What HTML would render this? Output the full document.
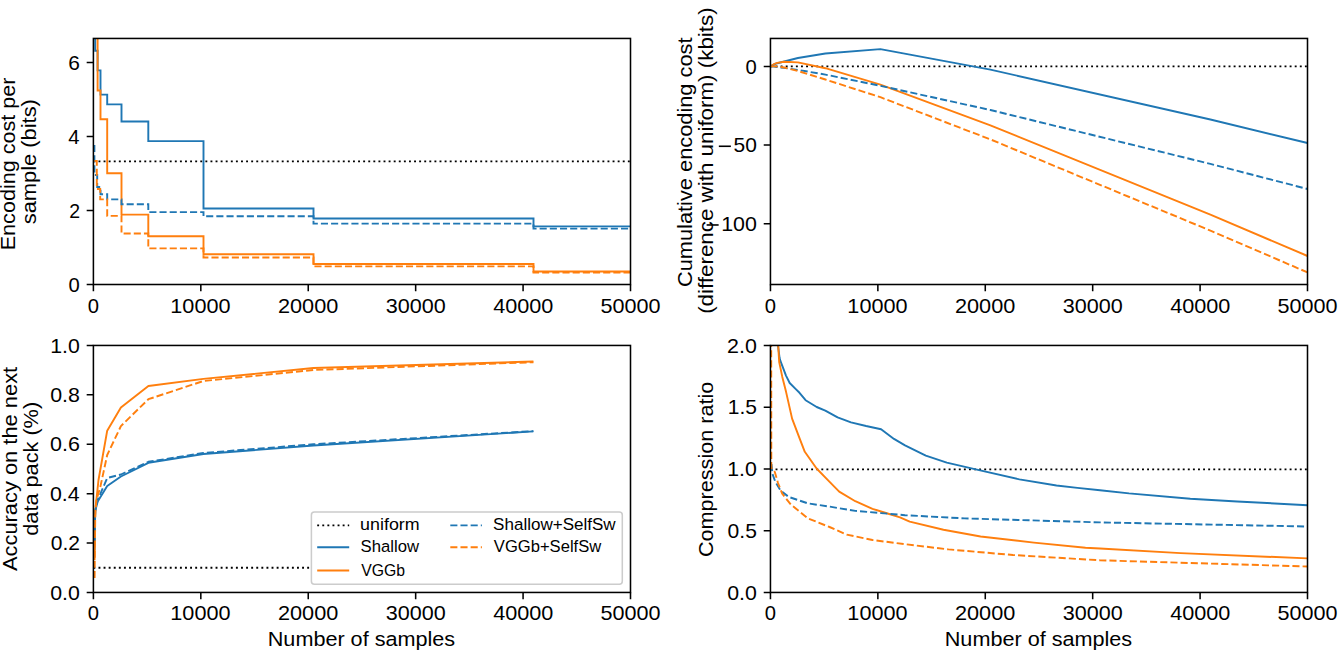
<!DOCTYPE html>
<html><head><meta charset="utf-8"><style>html,body{margin:0;padding:0;background:#fff;width:1339px;height:651px;overflow:hidden}</style></head><body>
<svg width="1339" height="651" viewBox="0 0 1339 651" style="display:block">
<rect width="1339" height="651" fill="#fff"/>
<g font-family="Liberation Sans, sans-serif" fill="#000">
<clipPath id="cTL"><rect x="93.4" y="38.45" width="537.1" height="246.05"/></clipPath>
<clipPath id="cTR"><rect x="770.45" y="38.45" width="537.05" height="246.05"/></clipPath>
<clipPath id="cBL"><rect x="93.4" y="345.45" width="537.1" height="247.00000000000006"/></clipPath>
<clipPath id="cBR"><rect x="770.45" y="345.45" width="537.05" height="247.00000000000006"/></clipPath>
<path d="M93.4,161.4 H630.5" stroke="#000" stroke-width="1.92" stroke-dasharray="1.92 3.17" clip-path="url(#cTL)"/>
<path d="M95.2,30 V50.7 H97.6 V70.4 H100.5 V94.6 H107.2 V104.4 H121.5 V121.5 H148.3 V141.1 H203.5 V208.5 H313.5 V218.5 H533.5 V226.4 H631" fill="none" stroke="#1f77b4" stroke-width="1.92" stroke-linejoin="miter" clip-path="url(#cTL)"/>
<path d="M97.6,30 V90.5 H100.5 V119.2 H107.2 V173.3 H121.5 V214.6 H148.3 V236.2 H203.5 V254.3 H313.5 V264.0 H533.5 V271.5 H631" fill="none" stroke="#ff7f0e" stroke-width="1.92" stroke-linejoin="miter" clip-path="url(#cTL)"/>
<path d="M94.4,145 V175 H97.2 V187 H100.5 V194.3 H107.2 V199.4 H121.5 V204.3 H148.3 V212.1 H203.5 V216.3 H313.5 V223.6 H533.5 V228.6 H631" fill="none" stroke="#1f77b4" stroke-width="1.92" stroke-dasharray="7.1 3.07" stroke-linejoin="miter" clip-path="url(#cTL)"/>
<path d="M94.4,161 H96.8 V189 H100.2 V199.4 H107.2 V215.9 H121.5 V233.5 H148.3 V248.4 H203.5 V257.5 H313.5 V266.4 H533.5 V272.6 H631" fill="none" stroke="#ff7f0e" stroke-width="1.92" stroke-dasharray="7.1 3.07" stroke-linejoin="miter" clip-path="url(#cTL)"/>
<path d="M770.45,66.4 H1307.5" stroke="#000" stroke-width="1.92" stroke-dasharray="1.92 3.17" clip-path="url(#cTR)"/>
<path d="M770.45,66.40 L773.90,64.50 L777.30,63.20 L784.20,61.50 L797.90,58.00 L825.40,53.50 L880.40,49.10 L990.40,69.60 L1210.40,119.50 L1307.50,143.00" fill="none" stroke="#1f77b4" stroke-width="1.92" stroke-linejoin="round" clip-path="url(#cTR)"/>
<path d="M770.45,66.40 L773.90,64.20 L777.30,62.90 L784.20,61.80 L797.90,62.40 L825.40,68.20 L880.40,84.60 L990.40,125.30 L1210.40,214.60 L1307.50,256.00" fill="none" stroke="#ff7f0e" stroke-width="1.92" stroke-linejoin="round" clip-path="url(#cTR)"/>
<path d="M770.45,66.40 L773.90,66.50 L777.30,67.00 L784.20,67.90 L797.90,69.90 L825.40,74.60 L880.40,85.80 L990.40,110.00 L1210.40,163.90 L1307.50,189.00" fill="none" stroke="#1f77b4" stroke-width="1.92" stroke-dasharray="7.1 3.07" stroke-linejoin="round" clip-path="url(#cTR)"/>
<path d="M770.45,66.40 L773.90,66.40 L777.30,66.50 L784.20,67.50 L797.90,71.00 L825.40,79.50 L880.40,97.20 L990.40,139.40 L1210.40,230.60 L1307.50,272.40" fill="none" stroke="#ff7f0e" stroke-width="1.92" stroke-dasharray="7.1 3.07" stroke-linejoin="round" clip-path="url(#cTR)"/>
<path d="M93.4,567.75 H533.4" stroke="#000" stroke-width="1.92" stroke-dasharray="1.92 3.17" clip-path="url(#cBL)"/>
<path d="M94.60,550.00 L95.20,511.00 L97.70,501.40 L107.20,486.00 L120.90,476.50 L148.40,462.80 L203.40,454.00 L313.40,445.50 L533.40,431.40" fill="none" stroke="#1f77b4" stroke-width="1.92" stroke-linejoin="round" clip-path="url(#cBL)"/>
<path d="M94.60,560.00 L95.00,520.00 L95.50,508.00 L98.50,480.00 L107.20,430.70 L120.90,407.60 L148.40,386.00 L203.40,378.90 L313.40,368.00 L533.40,361.50" fill="none" stroke="#ff7f0e" stroke-width="1.92" stroke-linejoin="round" clip-path="url(#cBL)"/>
<path d="M94.60,545.00 L95.20,511.00 L97.70,500.00 L107.20,478.00 L120.90,474.50 L148.40,461.80 L203.40,453.00 L313.40,444.30 L533.40,431.10" fill="none" stroke="#1f77b4" stroke-width="1.92" stroke-dasharray="7.1 3.07" stroke-linejoin="round" clip-path="url(#cBL)"/>
<path d="M94.60,578.00 L95.30,510.00 L96.50,500.00 L100.30,487.00 L107.20,455.00 L120.90,426.10 L148.40,399.20 L203.40,381.00 L313.40,370.00 L533.40,362.20" fill="none" stroke="#ff7f0e" stroke-width="1.92" stroke-dasharray="7.1 3.07" stroke-linejoin="round" clip-path="url(#cBL)"/>
<path d="M770.45,469.4 H1307.5" stroke="#000" stroke-width="1.92" stroke-dasharray="1.92 3.17" clip-path="url(#cBR)"/>
<path d="M777.50,330.00 L778.00,345.50 L779.60,358.00 L780.40,360.90 L786.00,375.60 L789.70,383.00 L795.80,389.10 L799.50,392.80 L805.60,400.20 L816.70,407.00 L825.30,410.60 L837.60,417.40 L851.00,422.40 L866.10,426.00 L881.10,429.20 L894.00,438.90 L905.00,445.40 L925.80,455.60 L946.80,462.60 L975.80,469.40 L1019.40,479.40 L1056.50,485.50 L1077.40,487.90 L1100.00,490.20 L1129.00,493.40 L1190.30,498.70 L1237.10,501.50 L1307.50,505.20" fill="none" stroke="#1f77b4" stroke-width="1.92" stroke-linejoin="round" clip-path="url(#cBR)"/>
<path d="M777.50,330.00 L778.20,345.50 L779.20,362.10 L782.30,376.90 L786.00,391.60 L792.10,418.60 L799.40,437.80 L804.80,451.80 L816.60,468.50 L827.40,479.70 L839.20,491.60 L855.30,501.20 L872.50,508.80 L887.60,513.50 L900.00,517.40 L909.70,521.60 L943.50,529.70 L980.60,536.50 L1033.90,542.60 L1085.50,547.70 L1100.00,548.50 L1180.60,553.10 L1307.50,558.40" fill="none" stroke="#ff7f0e" stroke-width="1.92" stroke-linejoin="round" clip-path="url(#cBR)"/>
<path d="M771.50,464.00 L772.50,474.00 L775.20,481.50 L780.50,490.50 L788.70,496.90 L808.00,503.40 L829.50,506.60 L855.30,510.90 L881.10,513.10 L905.00,515.20 L964.50,518.40 L1029.00,520.30 L1100.00,522.40 L1307.50,526.50" fill="none" stroke="#1f77b4" stroke-width="1.92" stroke-dasharray="7.1 3.07" stroke-linejoin="round" clip-path="url(#cBR)"/>
<path d="M771.20,340.00 L771.30,467.60 L774.80,472.00 L778.00,483.00 L782.20,493.70 L790.80,504.50 L808.00,518.40 L829.50,527.00 L846.70,534.60 L872.50,540.00 L905.00,544.20 L948.40,549.40 L1012.90,555.00 L1100.00,560.30 L1307.50,566.50" fill="none" stroke="#ff7f0e" stroke-width="1.92" stroke-dasharray="7.1 3.07" stroke-linejoin="round" clip-path="url(#cBR)"/>
<rect x="93.4" y="38.45" width="537.10" height="246.05" fill="none" stroke="#000" stroke-width="1.54" stroke-linejoin="miter"/>
<path d="M93.40,284.5 v6.72M200.82,284.5 v6.72M308.24,284.5 v6.72M415.66,284.5 v6.72M523.08,284.5 v6.72M630.50,284.5 v6.72" stroke="#000" stroke-width="1.54"/>
<text x="87.77" y="312.50" font-size="20.8" textLength="11.26" lengthAdjust="spacingAndGlyphs">0</text>
<text x="170.32" y="312.50" font-size="20.8" textLength="60.19" lengthAdjust="spacingAndGlyphs">10000</text>
<text x="277.95" y="312.50" font-size="20.8" textLength="60.34" lengthAdjust="spacingAndGlyphs">20000</text>
<text x="385.67" y="312.50" font-size="20.8" textLength="60.01" lengthAdjust="spacingAndGlyphs">30000</text>
<text x="493.15" y="312.50" font-size="20.8" textLength="60.21" lengthAdjust="spacingAndGlyphs">40000</text>
<text x="600.47" y="312.50" font-size="20.8" textLength="60.03" lengthAdjust="spacingAndGlyphs">50000</text>
<rect x="770.45" y="38.45" width="537.05" height="246.05" fill="none" stroke="#000" stroke-width="1.54" stroke-linejoin="miter"/>
<path d="M770.45,284.5 v6.72M877.86,284.5 v6.72M985.27,284.5 v6.72M1092.68,284.5 v6.72M1200.09,284.5 v6.72M1307.50,284.5 v6.72" stroke="#000" stroke-width="1.54"/>
<text x="764.82" y="312.50" font-size="20.8" textLength="11.26" lengthAdjust="spacingAndGlyphs">0</text>
<text x="847.36" y="312.50" font-size="20.8" textLength="60.19" lengthAdjust="spacingAndGlyphs">10000</text>
<text x="954.98" y="312.50" font-size="20.8" textLength="60.34" lengthAdjust="spacingAndGlyphs">20000</text>
<text x="1062.69" y="312.50" font-size="20.8" textLength="60.01" lengthAdjust="spacingAndGlyphs">30000</text>
<text x="1170.16" y="312.50" font-size="20.8" textLength="60.21" lengthAdjust="spacingAndGlyphs">40000</text>
<text x="1277.47" y="312.50" font-size="20.8" textLength="60.03" lengthAdjust="spacingAndGlyphs">50000</text>
<rect x="93.4" y="345.45" width="537.10" height="247.00" fill="none" stroke="#000" stroke-width="1.54" stroke-linejoin="miter"/>
<path d="M93.40,592.45 v6.72M200.82,592.45 v6.72M308.24,592.45 v6.72M415.66,592.45 v6.72M523.08,592.45 v6.72M630.50,592.45 v6.72" stroke="#000" stroke-width="1.54"/>
<text x="87.77" y="620.40" font-size="20.8" textLength="11.26" lengthAdjust="spacingAndGlyphs">0</text>
<text x="170.32" y="620.40" font-size="20.8" textLength="60.19" lengthAdjust="spacingAndGlyphs">10000</text>
<text x="277.95" y="620.40" font-size="20.8" textLength="60.34" lengthAdjust="spacingAndGlyphs">20000</text>
<text x="385.67" y="620.40" font-size="20.8" textLength="60.01" lengthAdjust="spacingAndGlyphs">30000</text>
<text x="493.15" y="620.40" font-size="20.8" textLength="60.21" lengthAdjust="spacingAndGlyphs">40000</text>
<text x="600.47" y="620.40" font-size="20.8" textLength="60.03" lengthAdjust="spacingAndGlyphs">50000</text>
<rect x="770.45" y="345.45" width="537.05" height="247.00" fill="none" stroke="#000" stroke-width="1.54" stroke-linejoin="miter"/>
<path d="M770.45,592.45 v6.72M877.86,592.45 v6.72M985.27,592.45 v6.72M1092.68,592.45 v6.72M1200.09,592.45 v6.72M1307.50,592.45 v6.72" stroke="#000" stroke-width="1.54"/>
<text x="764.82" y="620.40" font-size="20.8" textLength="11.26" lengthAdjust="spacingAndGlyphs">0</text>
<text x="847.36" y="620.40" font-size="20.8" textLength="60.19" lengthAdjust="spacingAndGlyphs">10000</text>
<text x="954.98" y="620.40" font-size="20.8" textLength="60.34" lengthAdjust="spacingAndGlyphs">20000</text>
<text x="1062.69" y="620.40" font-size="20.8" textLength="60.01" lengthAdjust="spacingAndGlyphs">30000</text>
<text x="1170.16" y="620.40" font-size="20.8" textLength="60.21" lengthAdjust="spacingAndGlyphs">40000</text>
<text x="1277.47" y="620.40" font-size="20.8" textLength="60.03" lengthAdjust="spacingAndGlyphs">50000</text>
<path d="M93.4,284.50 h-6.72M93.4,210.50 h-6.72M93.4,136.50 h-6.72M93.4,62.50 h-6.72" stroke="#000" stroke-width="1.54"/>
<text x="68.53" y="291.70" font-size="20.8" textLength="11.26" lengthAdjust="spacingAndGlyphs">0</text>
<text x="69.13" y="217.70" font-size="20.8" textLength="10.85" lengthAdjust="spacingAndGlyphs">2</text>
<text x="68.34" y="143.70" font-size="20.8" textLength="11.26" lengthAdjust="spacingAndGlyphs">4</text>
<text x="68.27" y="69.70" font-size="20.8" textLength="11.65" lengthAdjust="spacingAndGlyphs">6</text>
<path d="M770.45,66.40 h-6.72M770.45,145.10 h-6.72M770.45,223.80 h-6.72" stroke="#000" stroke-width="1.54"/>
<text x="745.58" y="73.60" font-size="20.8" textLength="11.26" lengthAdjust="spacingAndGlyphs">0</text>
<rect x="718.84" y="145.48" width="12.02" height="1.59"/>
<text x="733.54" y="152.30" font-size="20.8" textLength="23.33" lengthAdjust="spacingAndGlyphs">50</text>
<rect x="706.62" y="224.18" width="12.02" height="1.59"/>
<text x="721.16" y="231.00" font-size="20.8" textLength="35.73" lengthAdjust="spacingAndGlyphs">100</text>
<path d="M93.4,592.45 h-6.72M93.4,543.05 h-6.72M93.4,493.65 h-6.72M93.4,444.25 h-6.72M93.4,394.85 h-6.72M93.4,345.45 h-6.72" stroke="#000" stroke-width="1.54"/>
<text x="50.17" y="599.65" font-size="20.8" textLength="29.66" lengthAdjust="spacingAndGlyphs">0.0</text>
<text x="50.83" y="550.25" font-size="20.8" textLength="29.23" lengthAdjust="spacingAndGlyphs">0.2</text>
<text x="49.98" y="500.85" font-size="20.8" textLength="29.65" lengthAdjust="spacingAndGlyphs">0.4</text>
<text x="50.10" y="451.45" font-size="20.8" textLength="29.84" lengthAdjust="spacingAndGlyphs">0.6</text>
<text x="50.21" y="402.05" font-size="20.8" textLength="29.72" lengthAdjust="spacingAndGlyphs">0.8</text>
<text x="50.23" y="352.65" font-size="20.8" textLength="29.60" lengthAdjust="spacingAndGlyphs">1.0</text>
<path d="M770.45,592.45 h-6.72M770.45,530.70 h-6.72M770.45,468.95 h-6.72M770.45,407.20 h-6.72M770.45,345.45 h-6.72" stroke="#000" stroke-width="1.54"/>
<text x="727.22" y="599.65" font-size="20.8" textLength="29.66" lengthAdjust="spacingAndGlyphs">0.0</text>
<text x="727.64" y="537.90" font-size="20.8" textLength="29.30" lengthAdjust="spacingAndGlyphs">0.5</text>
<text x="727.28" y="476.15" font-size="20.8" textLength="29.60" lengthAdjust="spacingAndGlyphs">1.0</text>
<text x="727.70" y="414.40" font-size="20.8" textLength="29.23" lengthAdjust="spacingAndGlyphs">1.5</text>
<text x="727.12" y="352.65" font-size="20.8" textLength="29.77" lengthAdjust="spacingAndGlyphs">2.0</text>
<text x="267.76" y="645.90" font-size="19.9" textLength="187.38" lengthAdjust="spacingAndGlyphs">Number of samples</text>
<text x="944.78" y="645.90" font-size="19.9" textLength="187.38" lengthAdjust="spacingAndGlyphs">Number of samples</text>
<text x="0" y="0" transform="translate(14.65,250.27) rotate(-90)" font-size="19.9" textLength="172.66" lengthAdjust="spacingAndGlyphs">Encoding cost per</text>
<text x="0" y="0" transform="translate(35.90,224.31) rotate(-90)" font-size="19.9" textLength="125.22" lengthAdjust="spacingAndGlyphs">sample (bits)</text>
<text x="0" y="0" transform="translate(692.10,287.03) rotate(-90)" font-size="19.9" textLength="249.52" lengthAdjust="spacingAndGlyphs">Cumulative encoding cost</text>
<text x="0" y="0" transform="translate(712.60,313.86) rotate(-90)" font-size="19.9" textLength="306.52" lengthAdjust="spacingAndGlyphs">(difference with uniform) (kbits)</text>
<text x="0" y="0" transform="translate(17.00,571.04) rotate(-90)" font-size="19.9" textLength="204.19" lengthAdjust="spacingAndGlyphs">Accuracy on the next</text>
<text x="0" y="0" transform="translate(37.50,535.71) rotate(-90)" font-size="19.9" textLength="133.85" lengthAdjust="spacingAndGlyphs">data pack (%)</text>
<text x="0" y="0" transform="translate(713.40,557.02) rotate(-90)" font-size="19.9" textLength="175.25" lengthAdjust="spacingAndGlyphs">Compression ratio</text>
<rect x="311.4" y="512.1" width="310.9" height="72.1" rx="3" ry="3" fill="#fff" fill-opacity="1" stroke="#cccccc" stroke-width="1.54"/>
<path d="M317.2,525.35 H349.2" stroke="#000" stroke-width="1.92" stroke-dasharray="1.92 3.17"/>
<path d="M317.2,547.3 H349.2" stroke="#1f77b4" stroke-width="1.92"/>
<path d="M317.2,570.5 H349.2" stroke="#ff7f0e" stroke-width="1.92"/>
<path d="M450.3,525.35 H481.9" stroke="#1f77b4" stroke-width="1.92" stroke-dasharray="7.1 3.07"/>
<path d="M450.3,547.3 H481.9" stroke="#ff7f0e" stroke-width="1.92" stroke-dasharray="7.1 3.07"/>
<text x="360.14" y="530.45" font-size="16.3" textLength="59.55" lengthAdjust="spacingAndGlyphs">uniform</text>
<text x="360.54" y="552.40" font-size="16.3" textLength="58.45" lengthAdjust="spacingAndGlyphs">Shallow</text>
<text x="361.23" y="575.60" font-size="16.3" textLength="43.83" lengthAdjust="spacingAndGlyphs">VGGb</text>
<text x="493.13" y="530.45" font-size="16.3" textLength="122.52" lengthAdjust="spacingAndGlyphs">Shallow+SelfSw</text>
<text x="493.83" y="552.40" font-size="16.3" textLength="107.39" lengthAdjust="spacingAndGlyphs">VGGb+SelfSw</text>
</g></svg>
</body></html>
